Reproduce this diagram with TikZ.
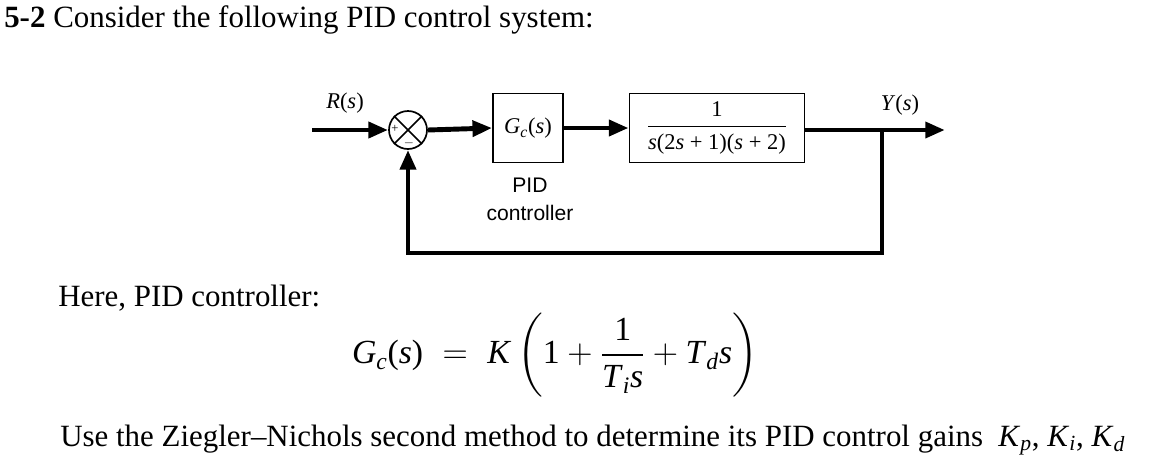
\documentclass[tikz,border=0pt]{standalone}
\usepackage{fontspec}
\setmainfont{Liberation Serif}
\newfontfamily\arialfont{Liberation Sans}
\usepackage{amsmath}
\usetikzlibrary{arrows.meta}
\newcommand{\iv}[1]{\textit{#1}}
\tikzset{
  block/.style = {draw, line width=1.2pt, minimum height=69*0.025cm},
  sig/.style = {line width=3.5pt},
  sigarrow/.style = {sig, -{Triangle[length=14pt,width=11pt]}},
  txt/.style = {anchor=west, inner sep=0pt, font=\fontsize{22}{26}\selectfont},
  lbl/.style = {font=\fontsize{16}{19}\selectfont},
}
\begin{document}
\begin{tikzpicture}[x=0.025cm, y=-0.025cm]
  \useasboundingbox (0,0) rectangle (1167,470);
  \node[txt] (Title) at (4,20) {\textbf{5-2} Consider the following PID control system:};
  \coordinate (In) at (312,130);
  \node[draw, circle, line width=1.2pt, minimum size=38*0.025cm, inner sep=0pt] (Sum) at (408,130) {};
  \draw[line width=1.2pt] (Sum.north west) -- (Sum.south east) (Sum.north east) -- (Sum.south west);
  \node[font=\small] at (395,129) {+};
  \node[font=\small] at (409,143) {$-$};
  \node[block, minimum width=70*0.025cm, lbl] (Gc) at (528,128) {\iv{G}\textsubscript{\iv{c}}(\iv{s})};
  \node[block, minimum width=175*0.025cm, lbl, inner sep=2pt] (Plant) at (717,128)
    {$\dfrac{\text{1}}{\text{\iv{s}(2\iv{s} + 1)(\iv{s} + 2)}}$};
  \coordinate (Out) at (945,130);
  \coordinate (Branch) at (882,130);
  \node[lbl] (R label) at (345,103) {\iv{R}(\iv{s})};
  \node[lbl] (Y label) at (900,105) {\iv{Y}(\iv{s})};
  \node[font=\arialfont\fontsize{15}{20}\selectfont, align=center] (PID) at (530,199) {PID\\controller};
  \draw[sigarrow] (In) -- (Sum.west);
  \draw[sigarrow] (Sum.east) -- (Gc.west);
  \draw[sigarrow] (Gc.east) -- (Plant.west);
  \draw[sigarrow] (Plant.east |- Out) -- (Out);
  \draw[sigarrow] (Branch) -- (882,253) -- (408,253) -- (Sum.south);
  \node[txt] (Here) at (58,298) {Here, PID controller:};
  \node[font=\fontsize{24}{28}\selectfont] (Eq) at (555,355)
    {$\text{\iv{G}\textsubscript{\iv{c}}(\iv{s})} \;=\; \text{\iv{K}}\left(\text{1} + \dfrac{\text{1}}{\text{\iv{T}\textsubscript{\iv{i}}\iv{s}}} + \text{\iv{T}\textsubscript{\iv{d}}\iv{s}}\right)$};
  \node[txt] (Task) at (60,440) {Use the Ziegler--Nichols second method to determine its PID control gains~ \iv{K}\textsubscript{\iv{p}}, \iv{K}\textsubscript{\iv{i}}, \iv{K}\textsubscript{\iv{d}}};
\end{tikzpicture}
\end{document}
